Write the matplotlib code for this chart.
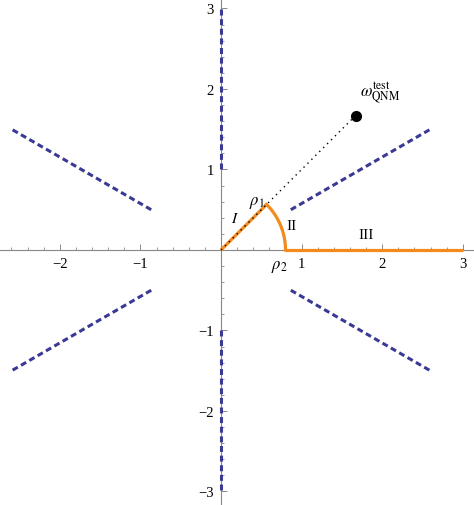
import numpy as np
import matplotlib
matplotlib.use("Agg")
import matplotlib.pyplot as plt
from matplotlib.ticker import FixedLocator, MultipleLocator

# Data
ray_angles_deg = [30, 90, 150, 210, 270, 330]   # directions of the dashed cuts
ray_r_start = 1.0
ray_r_end = 3.0
rho_radius = 0.8                                 # |rho1| = rho2
rho_angle_deg = 45                               # angle of rho1
contour_end = 3.0                                # end of segment III
qnm_point = (1.67, 1.67)                         # omega_QNM^test
major_ticks = [-2, -1, 1, 2, 3]
major_tick_labels = ["\u22122", "\u22121", "1", "2", "3"]
y_major_ticks = [-3, -2, -1, 1, 2, 3]
y_major_tick_labels = ["\u22123", "\u22122", "\u22121", "1", "2", "3"]

blue = "#3a3a94"
orange = "#f28a1e"

plt.rcParams["font.family"] = ["Liberation Serif", "DejaVu Serif"]
plt.rcParams["mathtext.fontset"] = "stix"

fig = plt.figure(figsize=(4.74, 5.06), dpi=100)
ax = fig.add_axes([0, 0, 1, 1])
ax.set_xlim(-2.742, 3.139)
ax.set_ylim(-3.168, 3.118)

# axes through origin
for s in ["top", "right"]:
    ax.spines[s].set_visible(False)
ax.spines["left"].set_position(("data", 0))
ax.spines["bottom"].set_position(("data", 0))
for s in ["left", "bottom"]:
    ax.spines[s].set_color("#888888")
    ax.spines[s].set_linewidth(0.8)
ax.patch.set_visible(False)

ax.xaxis.set_major_locator(FixedLocator(major_ticks))
ax.set_xticklabels(major_tick_labels)
ax.yaxis.set_major_locator(FixedLocator(y_major_ticks))
ax.set_yticklabels(y_major_tick_labels)
ax.xaxis.set_minor_locator(MultipleLocator(0.2))
ax.yaxis.set_minor_locator(MultipleLocator(0.2))
ax.tick_params(which="major", direction="in", length=4, width=0.7, color="#888888",
               labelsize=10.5, pad=5)
ax.tick_params(which="minor", direction="in", length=2.5, width=0.6, color="#888888")

# dashed cuts
for a in ray_angles_deg:
    t = np.deg2rad(a)
    ax.plot([ray_r_start * np.cos(t), ray_r_end * np.cos(t)],
            [ray_r_start * np.sin(t), ray_r_end * np.sin(t)],
            color=blue, lw=2.2, linestyle=(0, (1.95, 1.2)), solid_capstyle="butt",
            zorder=3)

# orange contour
t1 = np.deg2rad(rho_angle_deg)
rho1 = (rho_radius * np.cos(t1), rho_radius * np.sin(t1))
ax.plot([0, rho1[0]], [0, rho1[1]], color=orange, lw=2.3, zorder=4,
        solid_capstyle="butt")
arc_t = np.linspace(t1, 0, 60)
ax.plot(rho_radius * np.cos(arc_t), rho_radius * np.sin(arc_t), color=orange,
        lw=2.3, zorder=4)
ax.plot([rho_radius, contour_end], [0, 0], color=orange, lw=2.3, zorder=4,
        solid_capstyle="butt")

# dotted line to test point
ax.plot([0, qnm_point[0]], [0, qnm_point[1]], color="black", lw=1.0,
        linestyle=(0, (1, 3)), zorder=5)
ax.plot(*qnm_point, "o", color="black", ms=7, zorder=6)

# labels
ax.text(0.17, 0.40, "$I$", fontsize=11, ha="center", va="center")
ax.text(0.87, 0.30, "II", fontsize=11, ha="center", va="center")
ax.text(1.80, 0.19, "III", fontsize=11, ha="center", va="center")
ax.text(0.45, 0.60, r"$\rho_1$", fontsize=12, ha="center", va="center")
ax.text(0.72, -0.20, r"$\rho_2$", fontsize=12, ha="center", va="center")
ax.text(1.97, 1.95, r"$\omega_{\mathrm{QNM}}^{\mathrm{test}}$", fontsize=12,
        ha="center", va="center")

fig.savefig("out.png", dpi=100)
